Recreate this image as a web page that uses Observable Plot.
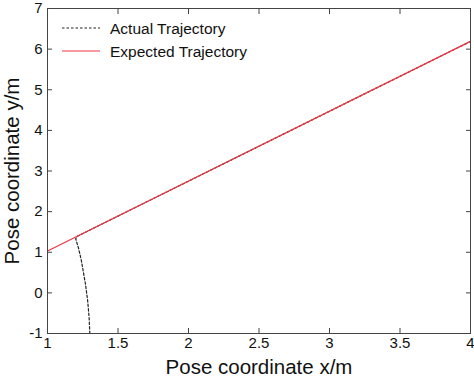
<!DOCTYPE html>
<html>
<head>
<meta charset="utf-8">
<script src="https://cdn.jsdelivr.net/npm/d3@7"></script>
<script src="https://cdn.jsdelivr.net/npm/@observablehq/plot@0.6"></script>
<style>
  html, body { margin: 0; padding: 0; background: #fff; }
  #wrap { position: relative; width: 474px; height: 382px; font-family: "Liberation Sans", Arial, sans-serif; }
  #wrap svg { overflow: visible; }
  #legend { position: absolute; left: 0; top: 0; pointer-events: none; }
</style>
</head>
<body>
<div id="wrap"></div>
<script>
// Expected trajectory (straight line)
const expectedX = [1.0, 4.0];
const expectedY = [1.03, 6.19];
// Actual trajectory (converges onto expected)
const actualX = [1.30, 1.295, 1.285, 1.27, 1.255, 1.24, 1.22, 1.20, 1.21, 1.5, 2.0, 2.5, 3.0, 3.5, 4.0];
const actualY = [-1.0, -0.6, -0.2, 0.2, 0.5, 0.8, 1.1, 1.33, 1.39, 1.89, 2.75, 3.61, 4.47, 5.33, 6.19];
const xTicks = [1, 1.5, 2, 2.5, 3, 3.5, 4];
const yTicks = [-1, 0, 1, 2, 3, 4, 5, 6, 7];
const legendLabels = ["Actual Trajectory", "Expected Trajectory"];

const expected = expectedX.map((x, i) => ({x, y: expectedY[i]}));
const actual = actualX.map((x, i) => ({x, y: actualY[i]}));

const W = 474, H = 382;
const chart = Plot.plot({
  width: W, height: H,
  marginLeft: 47, marginRight: 4, marginTop: 8, marginBottom: 49,
  style: {fontFamily: "Liberation Sans, Arial, sans-serif", background: "#fff", overflow: "visible"},
  x: {domain: [1, 4]},
  y: {domain: [-1, 7]},
  marks: [
    Plot.line(actual, {x: "x", y: "y", stroke: "#222", strokeWidth: 1.2, strokeDasharray: "2.5,2"}),
    Plot.line(expected, {x: "x", y: "y", stroke: "#f0353f", strokeWidth: 1.2}),
    Plot.frame({stroke: "#444", strokeWidth: 1}),
    Plot.axisX(xTicks, {anchor: "bottom", tickSize: -5, tickPadding: 9, fontSize: 15, stroke: "#444", fill: "#111", label: null, tickFormat: d => String(d)}),
    Plot.axisX(xTicks, {anchor: "top", tickSize: -5, text: null, stroke: "#444", label: null}),
    Plot.axisY(yTicks, {anchor: "left", tickSize: -5, tickPadding: 10, fontSize: 15, stroke: "#444", fill: "#111", label: null, tickFormat: d => String(d)}),
    Plot.axisY(yTicks, {anchor: "right", tickSize: -5, text: null, stroke: "#444", label: null}),
    Plot.text(["Pose coordinate x/m"], {frameAnchor: "bottom", textAnchor: "middle", dy: 40, fontSize: 20.5, fill: "#111"}),
    Plot.text(["Pose coordinate y/m"], {frameAnchor: "left", textAnchor: "middle", dx: -35, rotate: -90, fontSize: 20.5, fill: "#111"})
  ]
});
document.getElementById("wrap").appendChild(chart);

// Legend overlay (no box), upper-left inside the axes
const ns = "http://www.w3.org/2000/svg";
const leg = document.createElementNS(ns, "svg");
leg.setAttribute("id", "legend");
leg.setAttribute("width", W);
leg.setAttribute("height", 70);
const styles = [
  {stroke: "#222", dash: "2.5,2"},
  {stroke: "#f0353f", dash: null}
];
legendLabels.forEach((lab, i) => {
  const yy = 28 + i * 23;
  const ln = document.createElementNS(ns, "line");
  ln.setAttribute("x1", 62); ln.setAttribute("x2", 100);
  ln.setAttribute("y1", yy); ln.setAttribute("y2", yy);
  ln.setAttribute("stroke", styles[i].stroke);
  ln.setAttribute("stroke-width", 1.2);
  if (styles[i].dash) ln.setAttribute("stroke-dasharray", styles[i].dash);
  leg.appendChild(ln);
  const t = document.createElementNS(ns, "text");
  t.setAttribute("x", 110);
  t.setAttribute("y", yy + 6);
  t.setAttribute("font-size", 15.5);
  t.setAttribute("font-family", "Liberation Sans, Arial, sans-serif");
  t.setAttribute("fill", "#111");
  t.textContent = lab;
  leg.appendChild(t);
});
document.getElementById("wrap").appendChild(leg);
</script>
</body>
</html>
